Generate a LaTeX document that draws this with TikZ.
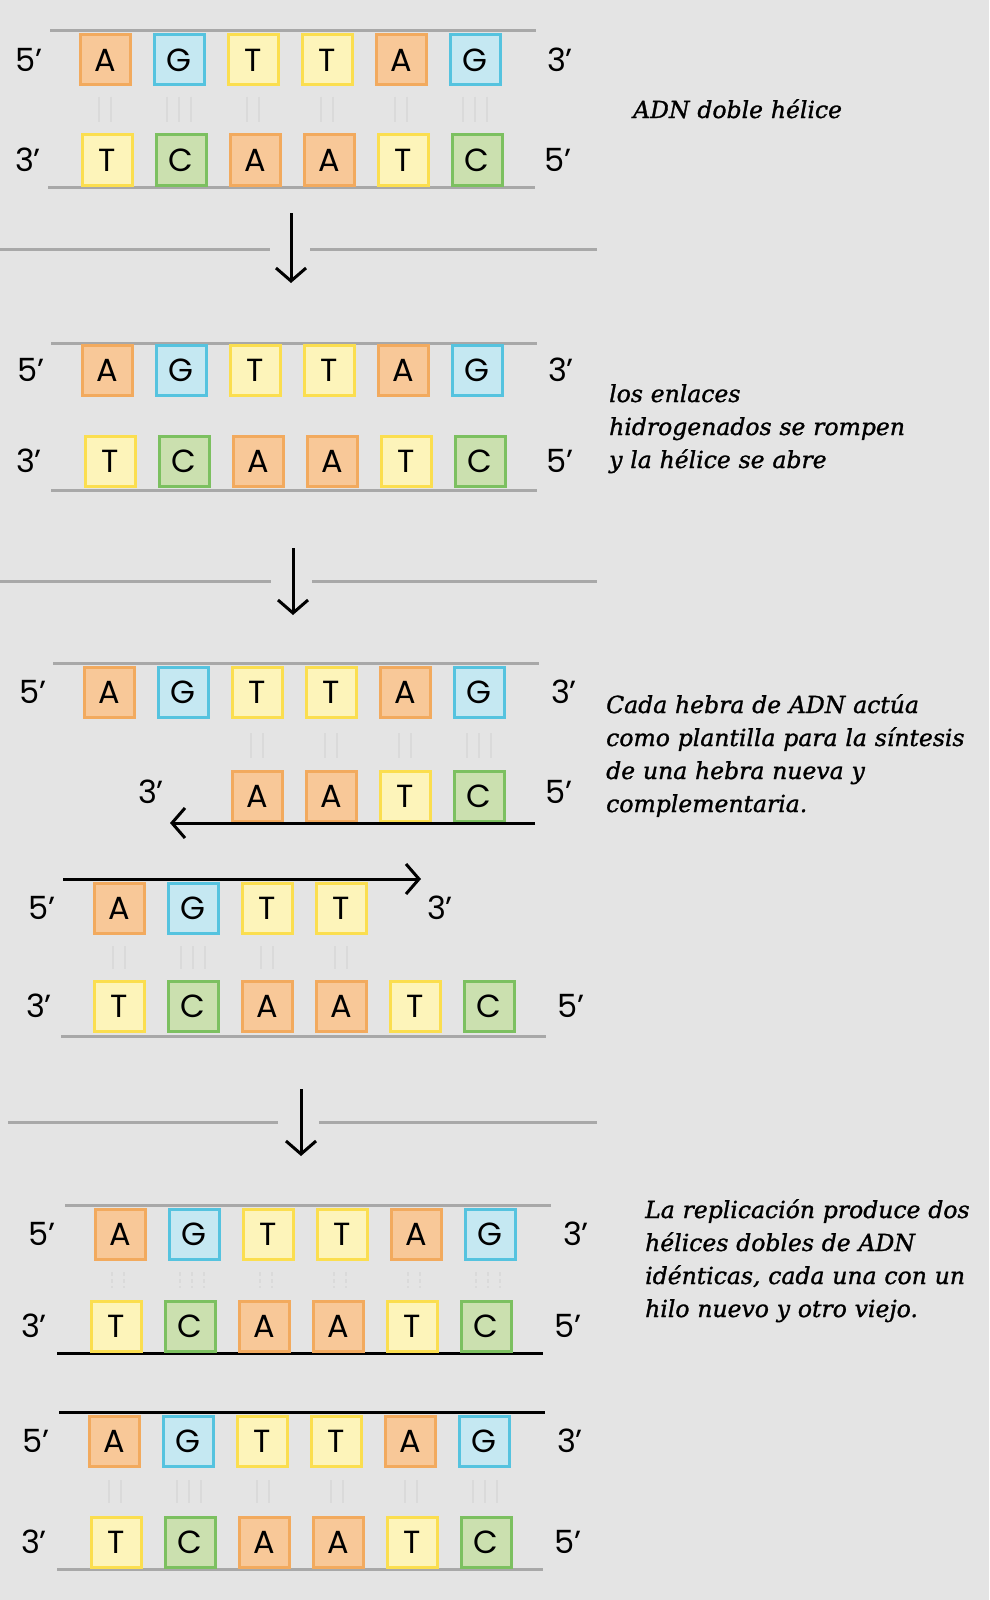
\documentclass[tikz,border=0pt]{standalone}
\usepackage{fontspec}
\newfontfamily\basefont{Poppins}
\newfontfamily\notefont{DejaVu Serif}[FakeBold=1.2]
\usetikzlibrary{arrows.meta}
\definecolor{bggray}{RGB}{228,228,228}
\definecolor{strandgray}{RGB}{168,168,168}
\definecolor{bondgray}{RGB}{218,218,218}
\definecolor{orangefill}{RGB}{248,200,152}
\definecolor{orangeline}{RGB}{242,170,94}
\definecolor{bluefill}{RGB}{197,232,242}
\definecolor{blueline}{RGB}{85,195,223}
\definecolor{yellowfill}{RGB}{253,244,186}
\definecolor{yellowline}{RGB}{251,222,79}
\definecolor{greenfill}{RGB}{203,224,175}
\definecolor{greenline}{RGB}{124,192,96}
\tikzset{
    base/.style={draw, line width=3pt, minimum size=50pt, inner sep=0pt, font=\basefont\fontsize{32}{32}\selectfont},
    adenine/.style={base, draw=orangeline, fill=orangefill},
    guanine/.style={base, draw=blueline, fill=bluefill},
    thymine/.style={base, draw=yellowline, fill=yellowfill},
    cytosine/.style={base, draw=greenline, fill=greenfill},
    prime/.style={inner sep=0pt, font=\basefont\fontsize{32}{32}\selectfont},
    strand/.style={line width=3pt, draw=strandgray},
    newstrand/.style={line width=3pt, draw=black},
    bond/.style={line width=2.5pt, draw=bondgray},
    pointer/.style={line width=3pt, -{Straight Barb[length=13pt,width=30pt]}},
    note/.style={anchor=base west, align=left, text width=390pt, inner sep=0pt, font=\notefont\itshape\fontsize{23.5}{33}\selectfont}
}
\begin{document}
\begin{tikzpicture}[x=1pt, y=-1pt]
        \useasboundingbox (0,0) rectangle (989,1600);
        \fill[bggray] (0,0) rectangle (989,1600);

        \draw[strand] (50,31) -- (536,31);
        \draw[strand] (48,187) -- (535,187);
        \node[prime] (p1tl) at (29,60) {5’};
        \node[prime] (p1tr) at (560,60) {3’};
        \node[prime] (p1bl) at (28,160) {3’};
        \node[prime] (p1br) at (558,160) {5’};
        \node[adenine] (p1t1) at (105,60) {A};
        \node[guanine] (p1t2) at (179,60) {G};
        \node[thymine] (p1t3) at (253,60) {T};
        \node[thymine] (p1t4) at (327,60) {T};
        \node[adenine] (p1t5) at (401,60) {A};
        \node[guanine] (p1t6) at (475,60) {G};
        \node[thymine] (p1b1) at (107,160) {T};
        \node[cytosine] (p1b2) at (181,160) {C};
        \node[adenine] (p1b3) at (255,160) {A};
        \node[adenine] (p1b4) at (329,160) {A};
        \node[thymine] (p1b5) at (403,160) {T};
        \node[cytosine] (p1b6) at (477,160) {C};
        \draw[bond] (99,97) -- (99,122) (111,97) -- (111,122);
        \draw[bond] (167,97) -- (167,122) (179,97) -- (179,122) (191,97) -- (191,122);
        \draw[bond] (247,97) -- (247,122) (259,97) -- (259,122);
        \draw[bond] (321,97) -- (321,122) (333,97) -- (333,122);
        \draw[bond] (395,97) -- (395,122) (407,97) -- (407,122);
        \draw[bond] (463,97) -- (463,122) (475,97) -- (475,122) (487,97) -- (487,122);
        \node[note] (n1) at (633,118) {ADN doble hélice};

        \draw[strand] (0,249) -- (270,249);
        \draw[strand] (310,249) -- (597,249);
        \draw[pointer] (291,213) -- (291,283);

        \draw[strand] (51,343) -- (537,343);
        \draw[strand] (51,490) -- (537,490);
        \node[prime] (p2tl) at (31,370) {5’};
        \node[prime] (p2tr) at (561,370) {3’};
        \node[prime] (p2bl) at (29,461) {3’};
        \node[prime] (p2br) at (560,461) {5’};
        \node[adenine] (p2t1) at (107,370) {A};
        \node[guanine] (p2t2) at (181,370) {G};
        \node[thymine] (p2t3) at (255,370) {T};
        \node[thymine] (p2t4) at (329,370) {T};
        \node[adenine] (p2t5) at (403,370) {A};
        \node[guanine] (p2t6) at (477,370) {G};
        \node[thymine] (p2b1) at (110,461) {T};
        \node[cytosine] (p2b2) at (184,461) {C};
        \node[adenine] (p2b3) at (258,461) {A};
        \node[adenine] (p2b4) at (332,461) {A};
        \node[thymine] (p2b5) at (406,461) {T};
        \node[cytosine] (p2b6) at (480,461) {C};
        \node[note] (n2) at (609,402) {los enlaces\\hidrogenados se rompen\\y la hélice se abre};

        \draw[strand] (0,581) -- (271,581);
        \draw[strand] (312,581) -- (597,581);
        \draw[pointer] (293,548) -- (293,615);

        \draw[strand] (53,663) -- (539,663);
        \node[prime] (p3tl) at (33,692) {5’};
        \node[prime] (p3tr) at (564,692) {3’};
        \node[adenine] (p3t1) at (109,692) {A};
        \node[guanine] (p3t2) at (183,692) {G};
        \node[thymine] (p3t3) at (257,692) {T};
        \node[thymine] (p3t4) at (331,692) {T};
        \node[adenine] (p3t5) at (405,692) {A};
        \node[guanine] (p3t6) at (479,692) {G};
        \draw[bond] (251,733) -- (251,758) (263,733) -- (263,758);
        \draw[bond] (325,733) -- (325,758) (337,733) -- (337,758);
        \draw[bond] (399,733) -- (399,758) (411,733) -- (411,758);
        \draw[bond] (467,733) -- (467,758) (479,733) -- (479,758) (491,733) -- (491,758);
        \node[prime] (p3nl) at (151,792) {3’};
        \node[prime] (p3nr) at (559,792) {5’};
        \node[adenine] (p3n3) at (257,796) {A};
        \node[adenine] (p3n4) at (331,796) {A};
        \node[thymine] (p3n5) at (405,796) {T};
        \node[cytosine] (p3n6) at (479,796) {C};
        \draw[newstrand, pointer] (535,823) -- (170,823);
        \node[note] (n3) at (606,713) {Cada hebra de ADN actúa\\como plantilla para la síntesis\\de una hebra nueva y\\complementaria.};

        \draw[newstrand, pointer] (63,879) -- (421,879);
        \node[prime] (p4nl) at (42,908) {5’};
        \node[prime] (p4nr) at (440,908) {3’};
        \node[adenine] (p4n1) at (119,908) {A};
        \node[guanine] (p4n2) at (193,908) {G};
        \node[thymine] (p4n3) at (267,908) {T};
        \node[thymine] (p4n4) at (341,908) {T};
        \draw[bond] (113,946) -- (113,969) (125,946) -- (125,969);
        \draw[bond] (181,946) -- (181,969) (193,946) -- (193,969) (205,946) -- (205,969);
        \draw[bond] (261,946) -- (261,969) (273,946) -- (273,969);
        \draw[bond] (335,946) -- (335,969) (347,946) -- (347,969);
        \node[prime] (p4bl) at (39,1006) {3’};
        \node[prime] (p4br) at (571,1006) {5’};
        \node[thymine] (p4b1) at (119,1006) {T};
        \node[cytosine] (p4b2) at (193,1006) {C};
        \node[adenine] (p4b3) at (267,1006) {A};
        \node[adenine] (p4b4) at (341,1006) {A};
        \node[thymine] (p4b5) at (415,1006) {T};
        \node[cytosine] (p4b6) at (489,1006) {C};
        \draw[strand] (61,1036) -- (546,1036);

        \draw[strand] (8,1122) -- (278,1122);
        \draw[strand] (319,1122) -- (597,1122);
        \draw[pointer] (301,1089) -- (301,1156);

        \draw[strand] (65,1205) -- (551,1205);
        \draw[newstrand] (57,1353) -- (543,1353);
        \node[prime] (p5tl) at (42,1234) {5’};
        \node[prime] (p5tr) at (576,1234) {3’};
        \node[prime] (p5bl) at (34,1326) {3’};
        \node[prime] (p5br) at (568,1326) {5’};
        \node[adenine] (p5t1) at (120,1234) {A};
        \node[guanine] (p5t2) at (194,1234) {G};
        \node[thymine] (p5t3) at (268,1234) {T};
        \node[thymine] (p5t4) at (342,1234) {T};
        \node[adenine] (p5t5) at (416,1234) {A};
        \node[guanine] (p5t6) at (490,1234) {G};
        \draw[bond, dash pattern=on 4pt off 3pt] (112,1272) -- (112,1288) (124,1272) -- (124,1288);
        \draw[bond, dash pattern=on 4pt off 3pt] (180,1272) -- (180,1288) (192,1272) -- (192,1288) (204,1272) -- (204,1288);
        \draw[bond, dash pattern=on 4pt off 3pt] (260,1272) -- (260,1288) (272,1272) -- (272,1288);
        \draw[bond, dash pattern=on 4pt off 3pt] (334,1272) -- (334,1288) (346,1272) -- (346,1288);
        \draw[bond, dash pattern=on 4pt off 3pt] (408,1272) -- (408,1288) (420,1272) -- (420,1288);
        \draw[bond, dash pattern=on 4pt off 3pt] (476,1272) -- (476,1288) (488,1272) -- (488,1288) (500,1272) -- (500,1288);
        \node[thymine] (p5b1) at (116,1326) {T};
        \node[cytosine] (p5b2) at (190,1326) {C};
        \node[adenine] (p5b3) at (264,1326) {A};
        \node[adenine] (p5b4) at (338,1326) {A};
        \node[thymine] (p5b5) at (412,1326) {T};
        \node[cytosine] (p5b6) at (486,1326) {C};
        \node[note] (n4) at (645,1218) {La replicación produce dos\\hélices dobles de ADN\\idénticas, cada una con un\\hilo nuevo y otro viejo.};

        \draw[newstrand] (59,1412) -- (545,1412);
        \draw[strand] (57,1569) -- (543,1569);
        \node[prime] (p6tl) at (36,1441) {5’};
        \node[prime] (p6tr) at (570,1441) {3’};
        \node[prime] (p6bl) at (34,1542) {3’};
        \node[prime] (p6br) at (568,1542) {5’};
        \node[adenine] (p6t1) at (114,1441) {A};
        \node[guanine] (p6t2) at (188,1441) {G};
        \node[thymine] (p6t3) at (262,1441) {T};
        \node[thymine] (p6t4) at (336,1441) {T};
        \node[adenine] (p6t5) at (410,1441) {A};
        \node[guanine] (p6t6) at (484,1441) {G};
        \draw[bond] (109,1480) -- (109,1503) (121,1480) -- (121,1503);
        \draw[bond] (177,1480) -- (177,1503) (189,1480) -- (189,1503) (201,1480) -- (201,1503);
        \draw[bond] (257,1480) -- (257,1503) (269,1480) -- (269,1503);
        \draw[bond] (331,1480) -- (331,1503) (343,1480) -- (343,1503);
        \draw[bond] (405,1480) -- (405,1503) (417,1480) -- (417,1503);
        \draw[bond] (473,1480) -- (473,1503) (485,1480) -- (485,1503) (497,1480) -- (497,1503);
        \node[thymine] (p6b1) at (116,1542) {T};
        \node[cytosine] (p6b2) at (190,1542) {C};
        \node[adenine] (p6b3) at (264,1542) {A};
        \node[adenine] (p6b4) at (338,1542) {A};
        \node[thymine] (p6b5) at (412,1542) {T};
        \node[cytosine] (p6b6) at (486,1542) {C};
    \end{tikzpicture}
\end{document}
